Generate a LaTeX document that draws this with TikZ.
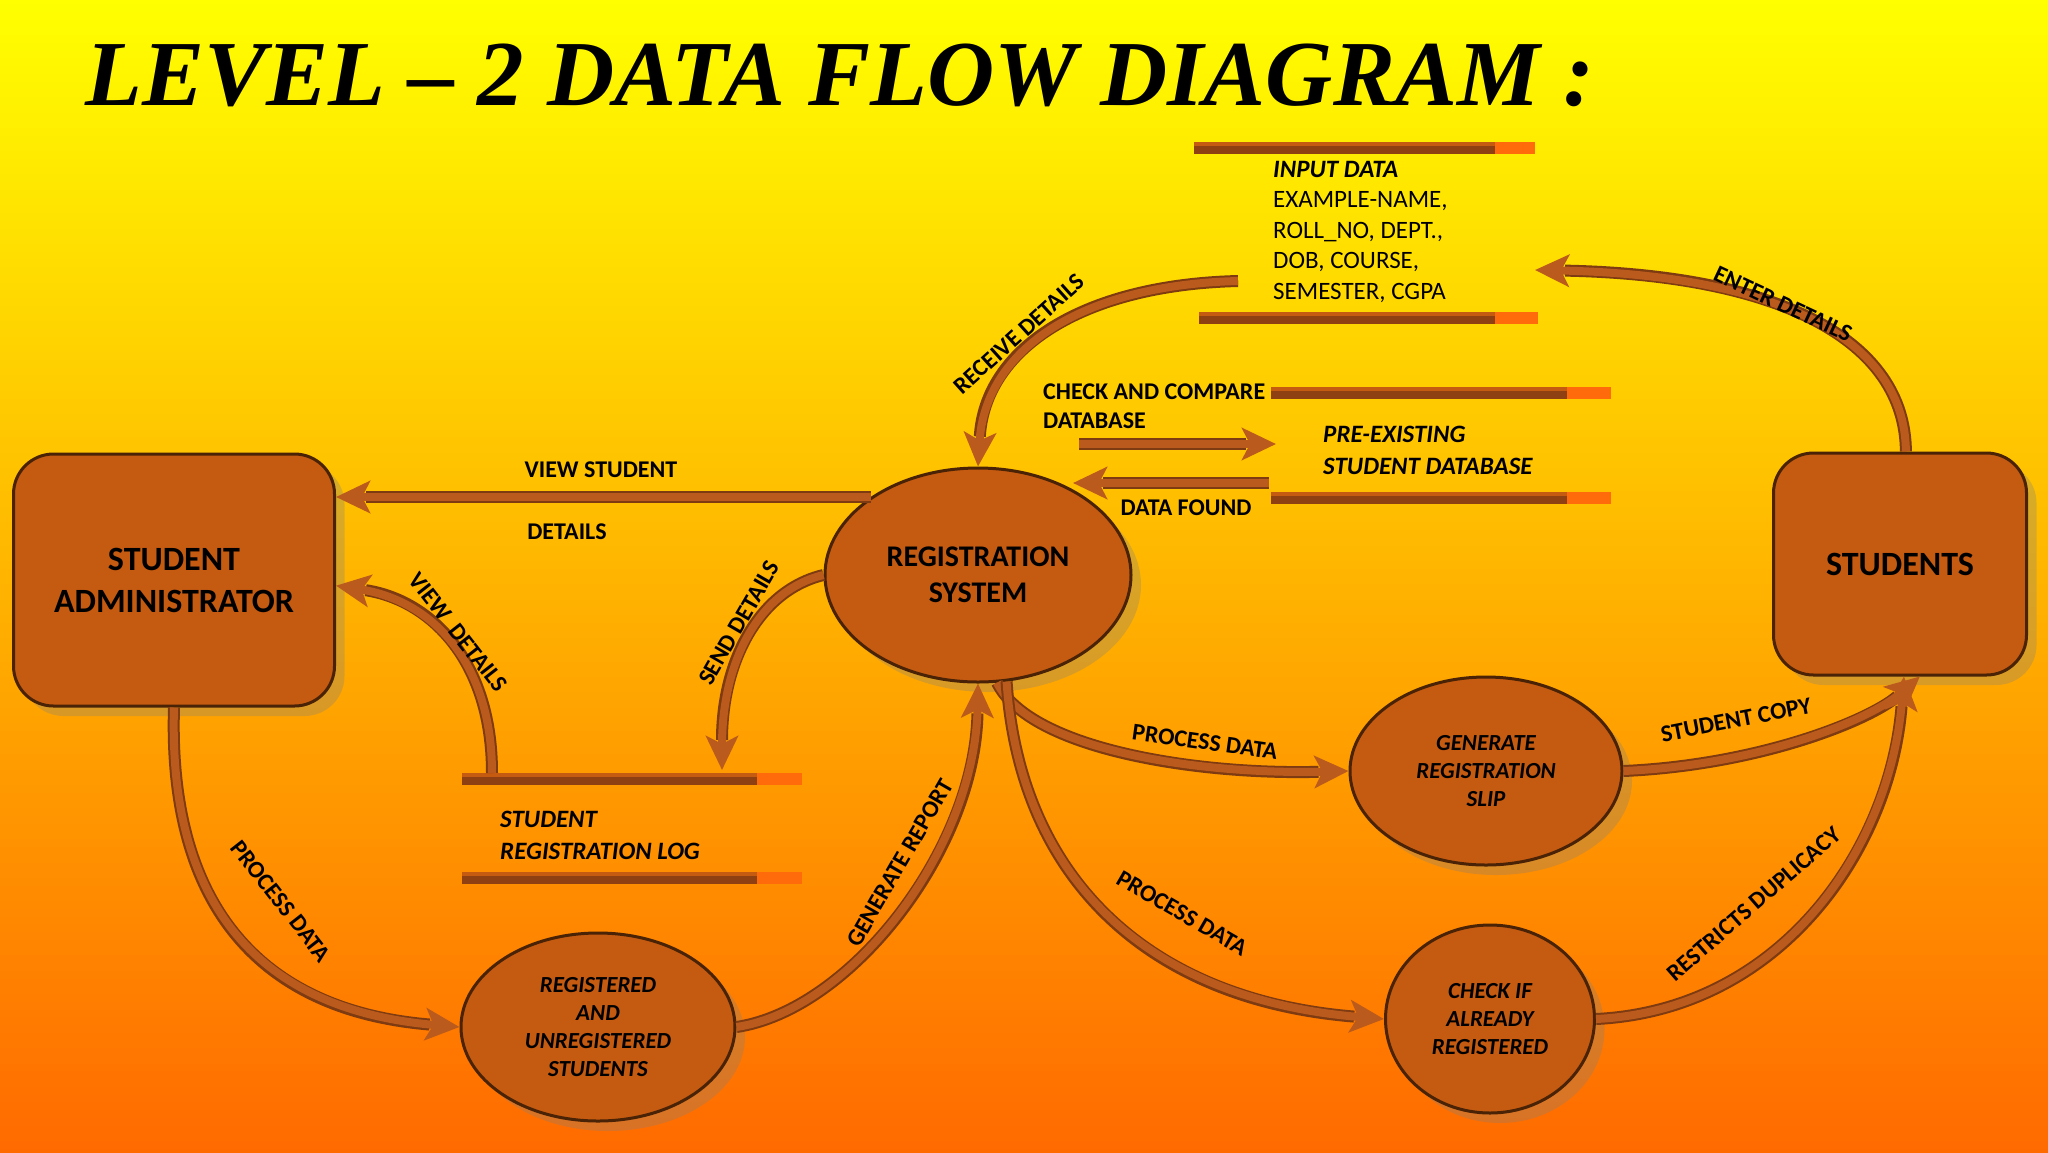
\documentclass[tikz,border=0pt]{standalone}
\usepackage{fontspec}
\setmainfont{Carlito}
\newfontfamily\titlefont{Liberation Serif}
\usetikzlibrary{arrows.meta,shapes.geometric,shadows}
\definecolor{dfyellow}{HTML}{FFFF00}
\definecolor{dfamber}{HTML}{FFBF00}
\definecolor{dforange}{HTML}{FF6A00}
\definecolor{dfbox}{HTML}{C55A11}
\definecolor{dfedge}{HTML}{4A2306}
\definecolor{dfflow}{HTML}{BA5A1C}
\definecolor{dfdark}{HTML}{7E3A10}
\definecolor{dfbar}{HTML}{8E4012}
\definecolor{dfglow}{HTML}{FF6A0A}

\begin{document}
\begin{tikzpicture}[x=1pt,y=-1pt,
  ent/.style={rectangle,rounded corners=40pt,fill=dfbox,draw=dfedge,line width=3pt,
              font=\bfseries\fontsize{34}{42}\selectfont,align=center,
              drop shadow={opacity=0.3,shadow xshift=10pt,shadow yshift=-10pt}},
  proc/.style={ellipse,fill=dfbox,draw=dfedge,line width=3pt,inner sep=0pt,align=center,
              font=\bfseries\itshape\fontsize{23}{28}\selectfont,
              drop shadow={opacity=0.3,shadow xshift=10pt,shadow yshift=-10pt}},
  flow/.style={draw=dfflow,line width=8pt,
              preaction={draw=dfdark,line width=12pt,-,shorten >=30pt},
              -{Stealth[length=34pt,width=32pt,inset=8pt]}},
  lbl/.style={font=\bfseries\fontsize{24}{29}\selectfont,inner sep=0pt},
  store/.style={inner sep=0pt,align=left,anchor=north west}
]
\useasboundingbox (0,0) rectangle (2048,1152);
\shade[top color=dfyellow,middle color=dfamber,bottom color=dforange] (0,0) rectangle (2048,1152);

% Title
\node[anchor=base west,inner sep=0pt,font=\titlefont\bfseries\itshape\fontsize{93}{100}\selectfont]
  (title) at (85,105) {LEVEL – 2 DATA FLOW DIAGRAM :};

% ---- Entities and processes -------------------------------
\node[ent,minimum width=321pt,minimum height=252pt] (admin) at (174,580) {STUDENT\\ADMINISTRATOR};
\node[ent,minimum width=253pt,minimum height=222pt] (stud) at (1900,564) {STUDENTS};
\node[proc,minimum width=306pt,minimum height=214pt,font=\bfseries\fontsize{30}{36}\selectfont]
  (reg) at (978,575) {REGISTRATION\\SYSTEM};
\node[proc,minimum width=272pt,minimum height=188pt] (slip) at (1486,771) {GENERATE\\REGISTRATION\\SLIP};
\node[proc,minimum width=209pt,minimum height=188pt] (chk) at (1490,1019) {CHECK IF\\ALREADY\\REGISTERED};
\node[proc,minimum width=274pt,minimum height=188pt] (regd) at (598,1027) {REGISTERED\\AND\\UNREGISTERED\\STUDENTS};

% ---- Data stores ------------------------------------------
\fill[dfglow] (1194,142) rectangle (1535,154);
\fill[dfbar]  (1194,142) rectangle (1495,154);
\fill[dfbox]  (1194,142) rectangle (1495,146);
\fill[dfglow] (1199,312) rectangle (1538,324);
\fill[dfbar]  (1199,312) rectangle (1495,324);
\fill[dfbox]  (1199,312) rectangle (1495,316);
\fill[dfglow] (1271,387) rectangle (1611,399);
\fill[dfbar]  (1271,387) rectangle (1567,399);
\fill[dfbox]  (1271,387) rectangle (1567,391);
\fill[dfglow] (1271,492) rectangle (1611,504);
\fill[dfbar]  (1271,492) rectangle (1567,504);
\fill[dfbox]  (1271,492) rectangle (1567,496);
\fill[dfglow] (462,773) rectangle (802,785);
\fill[dfbar]  (462,773) rectangle (757,785);
\fill[dfbox]  (462,773) rectangle (757,777);
\fill[dfglow] (462,872) rectangle (802,884);
\fill[dfbar]  (462,872) rectangle (757,884);
\fill[dfbox]  (462,872) rectangle (757,876);

\node[store,font=\fontsize{25}{30.5}\selectfont] (inpt) at (1273,161)
  {\textbf{\textit{INPUT DATA}}\\EXAMPLE-NAME,\\ROLL\_NO, DEPT.,\\DOB, COURSE,\\SEMESTER, CGPA};
\node[store,font=\bfseries\itshape\fontsize{25}{32}\selectfont] (pre) at (1323,426)
  {PRE-EXISTING\\STUDENT DATABASE};
\node[store,font=\bfseries\itshape\fontsize{25}{32}\selectfont] (logl) at (500,811)
  {STUDENT\\REGISTRATION LOG};

% ---- Free ends --------------------------------------------
\coordinate (rcv) at (1238,281);
\coordinate (inR) at (1535,270);
\coordinate (cmpA) at (1079,444);
\coordinate (cmpB) at (1276,444);
\coordinate (fnd) at (1269,483);
\coordinate (logL) at (492,773);
\coordinate (logR) at (722,770);

% ---- Flows ------------------------------------------------
\draw[flow] (reg.144) -- (admin.east |- reg.144);
\draw[flow] (rcv) .. controls (1080,285) and (985,350) .. (reg.north);
\draw[flow] (stud.87) .. controls (1905,340) and (1780,275) .. (inR);
\draw[flow] (cmpA) -- (cmpB);
\draw[flow] (fnd) -- (fnd -| reg.42);
\draw[flow] (reg.west) .. controls (760,590) and (722,660) .. (logR);
\draw[flow] (logL) .. controls (492,660) and (430,600) .. (admin.-2);
\draw[flow] (admin.south) .. controls (168,900) and (255,1010) .. (regd.west);
\draw[flow] (regd.east) .. controls (850,1010) and (975,850) .. (reg.south);
\draw[flow] (reg.-80) .. controls (1030,750) and (1200,775) .. (slip.west);
\draw[flow] (reg.-75) .. controls (1020,880) and (1150,1000) .. (chk.west);
\draw[flow] (slip.east) .. controls (1760,765) and (1870,720) .. (stud.-80);
\draw[flow] (chk.east) .. controls (1780,1010) and (1890,850) .. (stud.-88);

% ---- Flow labels ------------------------------------------
\node[lbl] (lview) at (601,470) {VIEW STUDENT};
\node[lbl] (ldet) at (567,532) {DETAILS};
\node[lbl,rotate=42] (lrcv) at (1019,334) {RECEIVE DETAILS};
\node[lbl,rotate=-25] (lent) at (1783,304) {ENTER DETAILS};
\node[lbl,align=left,anchor=west] (lcmp) at (1043,406) {CHECK AND COMPARE\\DATABASE};
\node[lbl] (lfnd) at (1186,508) {DATA FOUND};
\node[lbl,rotate=-52] (lvd) at (458,632) {VIEW\ \ DETAILS};
\node[lbl,rotate=60] (lsend) at (739,623) {SEND DETAILS};
\node[lbl,rotate=-52] (lp1) at (281,901) {PROCESS DATA};
\node[lbl,rotate=60] (lrep) at (900,863) {GENERATE REPORT};
\node[lbl,rotate=-8] (lp2) at (1205,742) {PROCESS DATA};
\node[lbl,rotate=11] (lcopy) at (1736,720) {STUDENT COPY};
\node[lbl,rotate=-30] (lp3) at (1182,913) {PROCESS DATA};
\node[lbl,rotate=41] (ldup) at (1754,904) {RESTRICTS DUPLICACY};

\end{tikzpicture}
\end{document}
